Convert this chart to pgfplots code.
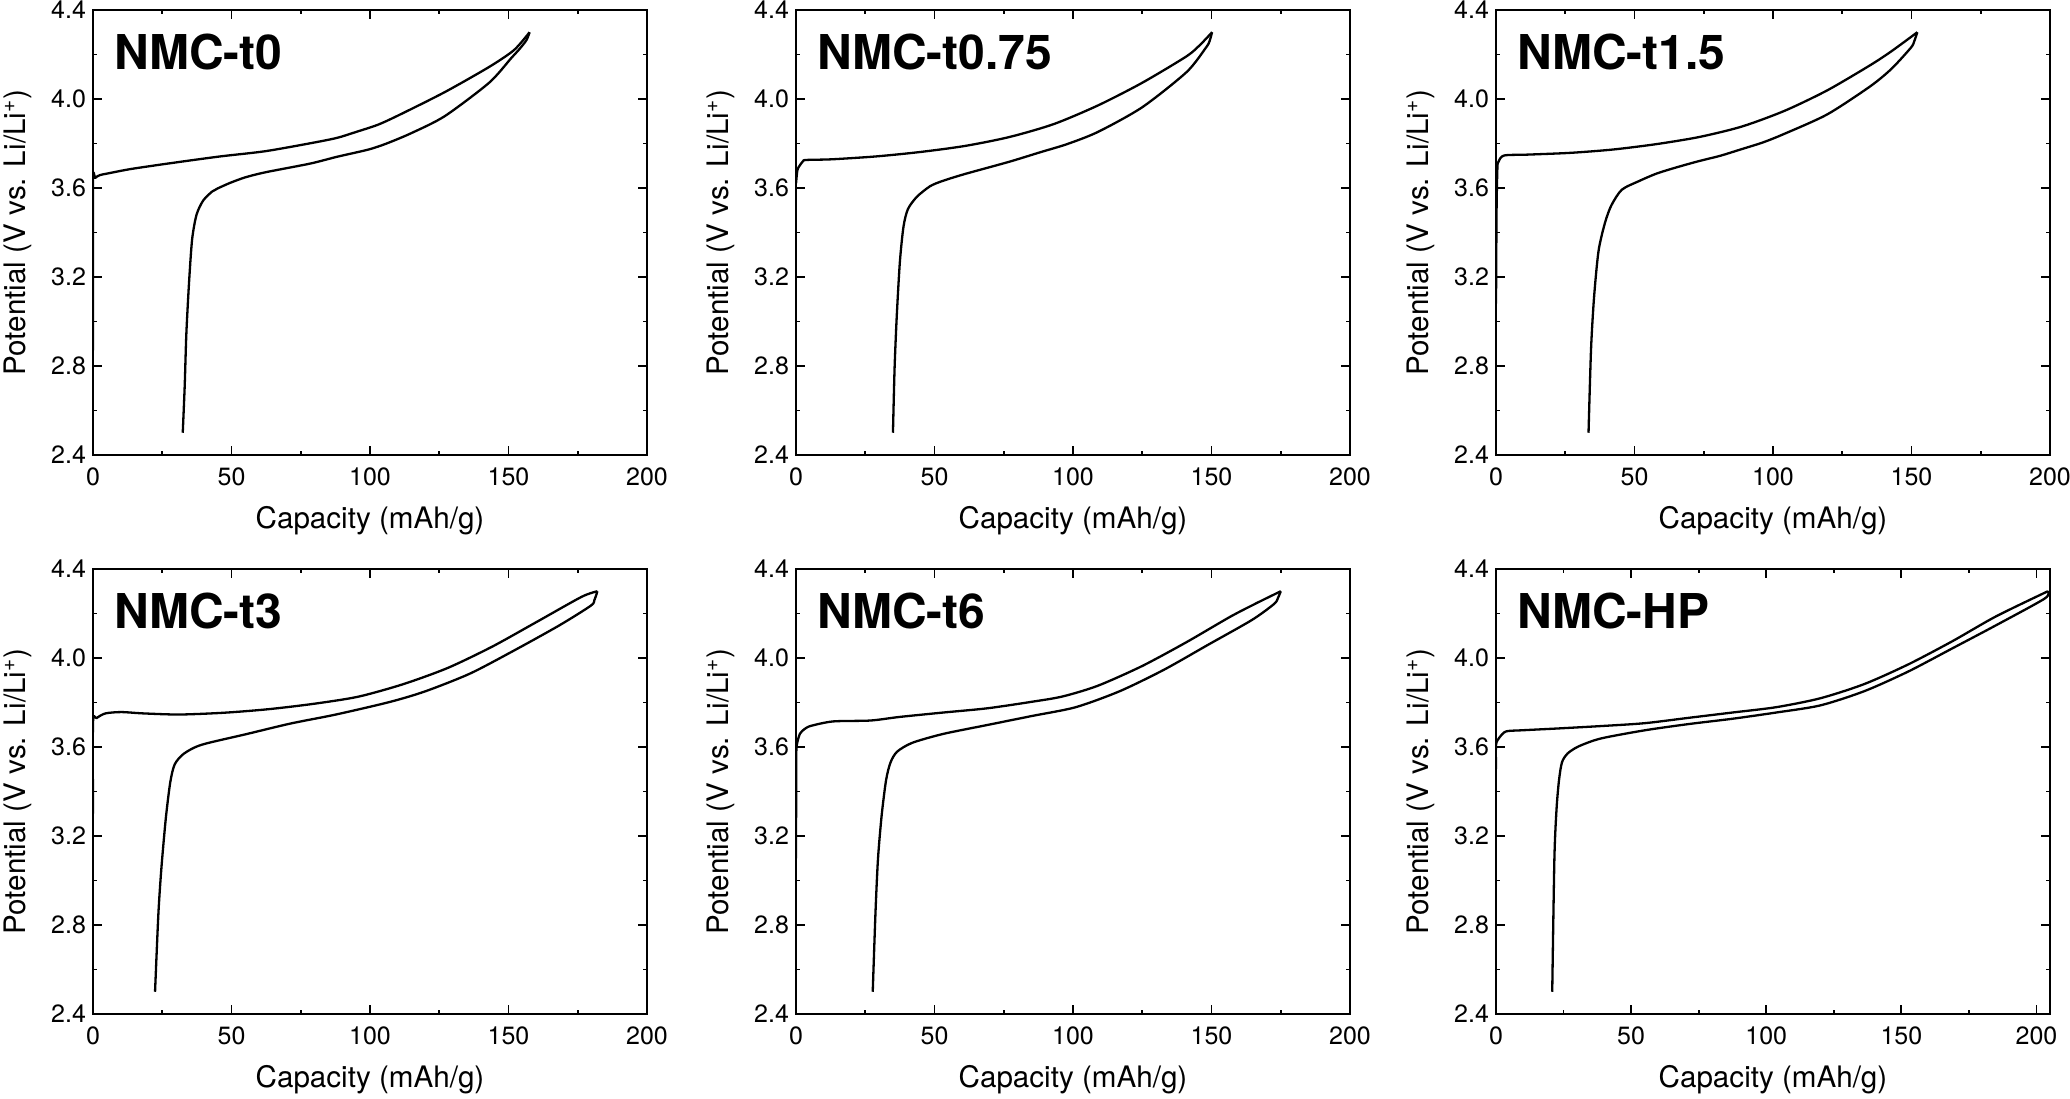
\documentclass[border=0pt]{standalone}
\usepackage{fontspec}
\setmainfont{TeX Gyre Heros}
\usepackage{pgfplots}
\pgfplotsset{compat=1.18}
\newcommand{\tickfont}{\fontsize{12.5}{15}\selectfont}
\newcommand{\labelfont}{\fontsize{14.8}{17}\selectfont}
\newcommand{\titlefont}{\fontsize{24}{28}\selectfont\bfseries}
\pgfplotsset{
  curve/.style={black, line width=1.15pt, no markers, line join=round, smooth, tension=0.45},
  panel/.style={
    scale only axis, width=277pt, height=222.5pt, anchor=south west,
    xmin=0, xmax=200, ymin=2.4, ymax=4.4,
    xtick={0,50,100,150,200}, ytick={2.4,2.8,3.2,3.6,4.0,4.4},
    minor x tick num=1, minor y tick num=1,
    tick align=inside,
    major tick length=4.5pt, minor tick length=2.2pt,
    axis line style={line width=1pt, black},
    every tick/.style={line width=0.9pt, black},
    /pgf/number format/assume math mode=true,
    tick label style={font=\tickfont, black},
    yticklabel style={/pgf/number format/.cd, fixed, fixed zerofill, precision=1, /tikz/.cd},
    xticklabel style={/pgf/number format/.cd, fixed, precision=0, /tikz/.cd, yshift=-2.8pt},
    xlabel={Capacity (mAh/g)},
    ylabel={Potential (V vs. Li/Li\textsuperscript{+})},
    xlabel style={at={(axis description cs:0.5,-0.1483)}, anchor=center, font=\labelfont},
    ylabel style={at={(axis description cs:-0.136,0.5)}, anchor=center, font=\labelfont},
  },
}
\begin{document}
\begin{tikzpicture}
\path[use as bounding box] (0,0) rectangle (1035pt,549pt);

% ---------- NMC-t0 ----------
\begin{axis}[panel, at={(46.5pt,321.5pt)}]
\addplot[curve] coordinates {(0,2.87) (0,3.62) (0.8,3.645) (2.5,3.658) (5.2,3.665) (14,3.686) (30,3.715) (46,3.742) (62,3.765) (78,3.80) (88,3.825) (95,3.852) (103,3.885) (111,3.931) (127,4.031) (143,4.144) (152,4.22) (157.6,4.30)};
\addplot[curve] coordinates {(157.6,4.30) (156.5,4.265) (154,4.225) (151,4.184) (143,4.073) (127,3.923) (115,3.847) (106,3.80) (99.5,3.773) (88,3.74) (78.5,3.71) (62.4,3.671) (55,3.648) (49.5,3.623) (45,3.598) (43,3.584) (39.8,3.544) (37.4,3.481) (35.8,3.371) (34.7,3.181) (33.7,2.945) (33.1,2.708) (32.4,2.50)};
\node[anchor=north west, inner sep=0pt, font=\titlefont, xshift=10.5pt, yshift=-12pt] at (rel axis cs:0,1) {NMC-t0};
\end{axis}

% ---------- NMC-t0.75 ----------
\begin{axis}[panel, at={(398pt,321.5pt)}]
\addplot[curve] coordinates {(0,3.62) (0.5,3.68) (1.3,3.70) (2.5,3.72) (3.7,3.726) (13,3.729) (29,3.742) (45,3.762) (61,3.789) (77,3.829) (93,3.887) (109,3.971) (125,4.073) (141,4.192) (146,4.245) (150.2,4.30)};
\addplot[curve] coordinates {(150.2,4.30) (149.3,4.26) (148,4.231) (141,4.121) (125,3.963) (109,3.852) (97.8,3.797) (88,3.76) (77,3.718) (61,3.663) (53,3.632) (48.4,3.608) (43.6,3.56) (40.4,3.505) (38.8,3.426) (37.5,3.268) (36.4,3.031) (35.6,2.795) (35,2.50)};
\node[anchor=north west, inner sep=0pt, font=\titlefont, xshift=10.5pt, yshift=-12pt] at (rel axis cs:0,1) {NMC-t0.75};
\end{axis}

% ---------- NMC-t1.5 ----------
\begin{axis}[panel, at={(748pt,321.5pt)}]
\addplot[curve] coordinates {(0,3.08) (0.2,3.5) (0.5,3.69) (0.9,3.718) (2.9,3.746) (11.4,3.75) (26.9,3.758) (42.3,3.773) (57.8,3.797) (73.3,3.829) (88.7,3.876) (104.2,3.947) (119.6,4.039) (135.1,4.152) (142.8,4.215) (152.1,4.30)};
\addplot[curve] coordinates {(152.1,4.30) (151,4.26) (149.8,4.231) (142.8,4.136) (135.1,4.057) (119.6,3.931) (104.2,3.844) (96.4,3.805) (88,3.772) (81,3.745) (73,3.72) (65.5,3.694) (58,3.665) (51.6,3.631) (45.4,3.592) (41.6,3.521) (39.3,3.442) (37,3.316) (35.4,3.11) (34.3,2.874) (33.4,2.50)};
\node[anchor=north west, inner sep=0pt, font=\titlefont, xshift=10.5pt, yshift=-12pt] at (rel axis cs:0,1) {NMC-t1.5};
\end{axis}

% ---------- NMC-t3 ----------
\begin{axis}[panel, at={(46.5pt,42pt)}]
\addplot[curve] coordinates {(0,3.30) (0,3.71) (1.3,3.73) (4.5,3.751) (10.2,3.757) (18.2,3.751) (31.2,3.746) (47.3,3.754) (63.4,3.77) (79.6,3.794) (95.7,3.826) (111.9,3.882) (128,3.955) (144.1,4.051) (160.3,4.163) (176.4,4.275) (182.1,4.30)};
\addplot[curve] coordinates {(182.1,4.30) (181,4.26) (179.7,4.235) (168.4,4.147) (152.2,4.035) (136.1,3.93) (119.9,3.85) (107,3.802) (87.7,3.746) (71.5,3.706) (55.4,3.658) (39.2,3.61) (32.8,3.57) (29.5,3.522) (27.9,3.442) (26.3,3.281) (24.7,3.057) (23.6,2.849) (22.4,2.50)};
\node[anchor=north west, inner sep=0pt, font=\titlefont, xshift=10.5pt, yshift=-12pt] at (rel axis cs:0,1) {NMC-t3};
\end{axis}

% ---------- NMC-t6 ----------
\begin{axis}[panel, at={(398pt,42pt)}]
\addplot[curve] coordinates {(0,3.10) (0.1,3.55) (0.3,3.61) (1.4,3.659) (3,3.68) (5.4,3.695) (13.4,3.715) (26.9,3.719) (37.3,3.735) (53.2,3.755) (69.1,3.774) (85,3.803) (96.2,3.827) (108.9,3.875) (124.8,3.963) (140.8,4.07) (156.7,4.185) (166,4.245) (175,4.30)};
\addplot[curve] coordinates {(175,4.30) (174,4.27) (172.6,4.243) (164.6,4.171) (148.7,4.059) (132.8,3.947) (116.9,3.851) (101,3.779) (85,3.739) (69.1,3.699) (53.2,3.659) (42,3.619) (36.5,3.579) (34.1,3.53) (32.5,3.45) (30.9,3.29) (29.6,3.098) (28.7,2.858) (27.7,2.50)};
\node[anchor=north west, inner sep=0pt, font=\titlefont, xshift=10.5pt, yshift=-12pt] at (rel axis cs:0,1) {NMC-t6};
\end{axis}

% ---------- NMC-HP ----------
\begin{axis}[panel, at={(748pt,42pt)}, xmax=205]
\addplot[curve] coordinates {(0,3.50) (0,3.61) (1.3,3.643) (3.7,3.67) (9.4,3.675) (22.4,3.683) (38.7,3.694) (55,3.707) (71.2,3.731) (87.5,3.755) (103.7,3.779) (120,3.819) (136.3,3.883) (152.5,3.971) (168.8,4.075) (185,4.187) (204.2,4.30)};
\addplot[curve] coordinates {(204.2,4.30) (203,4.267) (185,4.147) (168.8,4.043) (152.5,3.939) (136.3,3.851) (120,3.787) (103.7,3.755) (87.5,3.727) (71.2,3.703) (55,3.675) (38.7,3.638) (30.6,3.603) (26.5,3.571) (24.4,3.531) (23.3,3.45) (22.4,3.322) (21.6,3.098) (20.8,2.50)};
\node[anchor=north west, inner sep=0pt, font=\titlefont, xshift=10.5pt, yshift=-12pt] at (rel axis cs:0,1) {NMC-HP};
\end{axis}
\end{tikzpicture}
\end{document}
